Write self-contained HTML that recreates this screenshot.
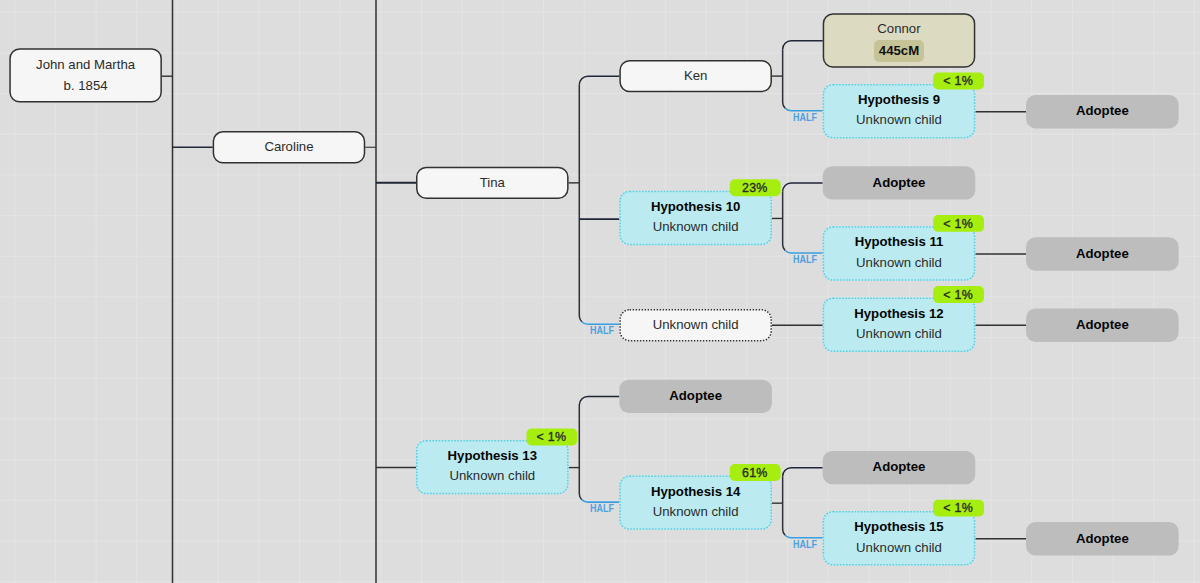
<!DOCTYPE html>
<html><head><meta charset="utf-8"><style>
*{margin:0;padding:0;box-sizing:border-box}
html,body{width:1200px;height:583px;overflow:hidden;background:#dddddd;font-family:"Liberation Sans",sans-serif}
svg{position:absolute;left:0;top:0}
.plain{padding-top:0.8px}
.n{position:absolute;width:152.6px;display:flex;flex-direction:column;align-items:center;justify-content:center;color:#2b2b2b;font-size:13.2px;line-height:20.4px;text-align:center}
.hyp .b,.adopt .b{color:#050505}
.hyp{padding-bottom:1.4px}
.b{font-weight:bold}
.connor{justify-content:flex-start;padding-top:6.2px}
.pill{background:#c6c497;border-radius:5px;font-weight:bold;color:#111;width:50px;height:22.2px;line-height:21.7px;margin-top:-0.2px}
.badge{position:absolute;width:50.8px;height:16.9px;color:#2b2b2b;font-size:12.4px;line-height:16.9px;padding-top:0.8px;padding-right:0.8px;text-align:center;letter-spacing:0.3px;-webkit-text-stroke:0.35px #2b2b2b}
.half{position:absolute;font-size:10.3px;font-weight:bold;color:#4da0e0;line-height:8px;width:30px;text-align:right;transform:scaleX(0.87);transform-origin:100% 50%}
</style></head>
<body>
<svg width="1200" height="583" viewBox="0 0 1200 583">
<line x1="14.70" y1="0" x2="14.70" y2="583" stroke="#e4e4e4" stroke-width="1"/>
<line x1="55.38" y1="0" x2="55.38" y2="583" stroke="#e4e4e4" stroke-width="1"/>
<line x1="96.06" y1="0" x2="96.06" y2="583" stroke="#e4e4e4" stroke-width="1"/>
<line x1="136.74" y1="0" x2="136.74" y2="583" stroke="#e4e4e4" stroke-width="1"/>
<line x1="177.42" y1="0" x2="177.42" y2="583" stroke="#e4e4e4" stroke-width="1"/>
<line x1="218.10" y1="0" x2="218.10" y2="583" stroke="#e4e4e4" stroke-width="1"/>
<line x1="258.78" y1="0" x2="258.78" y2="583" stroke="#e4e4e4" stroke-width="1"/>
<line x1="299.46" y1="0" x2="299.46" y2="583" stroke="#e4e4e4" stroke-width="1"/>
<line x1="340.14" y1="0" x2="340.14" y2="583" stroke="#e4e4e4" stroke-width="1"/>
<line x1="380.82" y1="0" x2="380.82" y2="583" stroke="#e4e4e4" stroke-width="1"/>
<line x1="421.50" y1="0" x2="421.50" y2="583" stroke="#e4e4e4" stroke-width="1"/>
<line x1="462.18" y1="0" x2="462.18" y2="583" stroke="#e4e4e4" stroke-width="1"/>
<line x1="502.86" y1="0" x2="502.86" y2="583" stroke="#e4e4e4" stroke-width="1"/>
<line x1="543.54" y1="0" x2="543.54" y2="583" stroke="#e4e4e4" stroke-width="1"/>
<line x1="584.22" y1="0" x2="584.22" y2="583" stroke="#e4e4e4" stroke-width="1"/>
<line x1="624.90" y1="0" x2="624.90" y2="583" stroke="#e4e4e4" stroke-width="1"/>
<line x1="665.58" y1="0" x2="665.58" y2="583" stroke="#e4e4e4" stroke-width="1"/>
<line x1="706.26" y1="0" x2="706.26" y2="583" stroke="#e4e4e4" stroke-width="1"/>
<line x1="746.94" y1="0" x2="746.94" y2="583" stroke="#e4e4e4" stroke-width="1"/>
<line x1="787.62" y1="0" x2="787.62" y2="583" stroke="#e4e4e4" stroke-width="1"/>
<line x1="828.30" y1="0" x2="828.30" y2="583" stroke="#e4e4e4" stroke-width="1"/>
<line x1="868.98" y1="0" x2="868.98" y2="583" stroke="#e4e4e4" stroke-width="1"/>
<line x1="909.66" y1="0" x2="909.66" y2="583" stroke="#e4e4e4" stroke-width="1"/>
<line x1="950.34" y1="0" x2="950.34" y2="583" stroke="#e4e4e4" stroke-width="1"/>
<line x1="991.02" y1="0" x2="991.02" y2="583" stroke="#e4e4e4" stroke-width="1"/>
<line x1="1031.70" y1="0" x2="1031.70" y2="583" stroke="#e4e4e4" stroke-width="1"/>
<line x1="1072.38" y1="0" x2="1072.38" y2="583" stroke="#e4e4e4" stroke-width="1"/>
<line x1="1113.06" y1="0" x2="1113.06" y2="583" stroke="#e4e4e4" stroke-width="1"/>
<line x1="1153.74" y1="0" x2="1153.74" y2="583" stroke="#e4e4e4" stroke-width="1"/>
<line x1="1194.42" y1="0" x2="1194.42" y2="583" stroke="#e4e4e4" stroke-width="1"/>
<line x1="0" y1="12.20" x2="1200" y2="12.20" stroke="#e4e4e4" stroke-width="1"/>
<line x1="0" y1="52.88" x2="1200" y2="52.88" stroke="#e4e4e4" stroke-width="1"/>
<line x1="0" y1="93.56" x2="1200" y2="93.56" stroke="#e4e4e4" stroke-width="1"/>
<line x1="0" y1="134.24" x2="1200" y2="134.24" stroke="#e4e4e4" stroke-width="1"/>
<line x1="0" y1="174.92" x2="1200" y2="174.92" stroke="#e4e4e4" stroke-width="1"/>
<line x1="0" y1="215.60" x2="1200" y2="215.60" stroke="#e4e4e4" stroke-width="1"/>
<line x1="0" y1="256.28" x2="1200" y2="256.28" stroke="#e4e4e4" stroke-width="1"/>
<line x1="0" y1="296.96" x2="1200" y2="296.96" stroke="#e4e4e4" stroke-width="1"/>
<line x1="0" y1="337.64" x2="1200" y2="337.64" stroke="#e4e4e4" stroke-width="1"/>
<line x1="0" y1="378.32" x2="1200" y2="378.32" stroke="#e4e4e4" stroke-width="1"/>
<line x1="0" y1="419.00" x2="1200" y2="419.00" stroke="#e4e4e4" stroke-width="1"/>
<line x1="0" y1="459.68" x2="1200" y2="459.68" stroke="#e4e4e4" stroke-width="1"/>
<line x1="0" y1="500.36" x2="1200" y2="500.36" stroke="#e4e4e4" stroke-width="1"/>
<line x1="0" y1="541.04" x2="1200" y2="541.04" stroke="#e4e4e4" stroke-width="1"/>
<line x1="0" y1="581.72" x2="1200" y2="581.72" stroke="#e4e4e4" stroke-width="1"/>
<line x1="172.50" y1="0.00" x2="172.50" y2="583.00" stroke="#313131" stroke-width="1.5"/>
<line x1="376.00" y1="0.00" x2="376.00" y2="583.00" stroke="#313131" stroke-width="1.5"/>
<line x1="161.90" y1="76.20" x2="172.50" y2="76.20" stroke="#313131" stroke-width="1.4"/>
<line x1="172.50" y1="147.27" x2="212.65" y2="147.27" stroke="#1f2636" stroke-width="1.4"/>
<line x1="365.25" y1="147.27" x2="376.00" y2="147.27" stroke="#313131" stroke-width="1.1"/>
<line x1="376.00" y1="182.86" x2="416.00" y2="182.86" stroke="#1f2636" stroke-width="2.0"/>
<line x1="376.00" y1="467.58" x2="416.00" y2="467.58" stroke="#313131" stroke-width="1.5"/>
<line x1="568.60" y1="182.86" x2="579.30" y2="182.86" stroke="#313131" stroke-width="1.4"/>
<path d="M619.35,76.29 H587.80 A8.5,8.5 0 0 0 579.30,84.79" fill="none" stroke="#1f2636" stroke-width="1.5"/>
<path d="M579.30,84.79 V315.72 A8.5,8.5 0 0 0 581.79,321.73" fill="none" stroke="#2e3038" stroke-width="1.5"/>
<path d="M581.79,321.73 A8.5,8.5 0 0 0 587.80,324.22 H619.35" fill="none" stroke="#3a9ee0" stroke-width="1.6"/>
<line x1="579.30" y1="219.15" x2="619.35" y2="219.15" stroke="#1f2636" stroke-width="1.8"/>
<line x1="568.60" y1="467.58" x2="579.30" y2="467.58" stroke="#313131" stroke-width="1.4"/>
<path d="M619.35,396.60 H587.80 A8.5,8.5 0 0 0 579.30,405.10" fill="none" stroke="#1f2636" stroke-width="1.5"/>
<path d="M579.30,405.10 V493.67 A8.5,8.5 0 0 0 581.79,499.68" fill="none" stroke="#2e3038" stroke-width="1.5"/>
<path d="M581.79,499.68 A8.5,8.5 0 0 0 587.80,502.17 H619.35" fill="none" stroke="#3a9ee0" stroke-width="1.6"/>
<line x1="771.95" y1="76.09" x2="782.65" y2="76.09" stroke="#313131" stroke-width="1.4"/>
<path d="M822.70,40.70 H791.15 A8.5,8.5 0 0 0 782.65,49.20" fill="none" stroke="#1f2636" stroke-width="1.5"/>
<path d="M782.65,49.20 V102.18 A8.5,8.5 0 0 0 785.14,108.19" fill="none" stroke="#2e3038" stroke-width="1.5"/>
<path d="M785.14,108.19 A8.5,8.5 0 0 0 791.15,110.68 H822.70" fill="none" stroke="#3a9ee0" stroke-width="1.6"/>
<line x1="771.95" y1="218.45" x2="782.65" y2="218.45" stroke="#313131" stroke-width="1.4"/>
<path d="M822.70,183.06 H791.15 A8.5,8.5 0 0 0 782.65,191.56" fill="none" stroke="#1f2636" stroke-width="1.5"/>
<path d="M782.65,191.56 V244.54 A8.5,8.5 0 0 0 785.14,250.55" fill="none" stroke="#2e3038" stroke-width="1.5"/>
<path d="M785.14,250.55 A8.5,8.5 0 0 0 791.15,253.04 H822.70" fill="none" stroke="#3a9ee0" stroke-width="1.6"/>
<line x1="771.95" y1="325.22" x2="822.70" y2="325.22" stroke="#313131" stroke-width="1.4"/>
<line x1="771.95" y1="503.17" x2="782.65" y2="503.17" stroke="#313131" stroke-width="1.4"/>
<path d="M822.70,467.78 H791.15 A8.5,8.5 0 0 0 782.65,476.28" fill="none" stroke="#1f2636" stroke-width="1.5"/>
<path d="M782.65,476.28 V529.26 A8.5,8.5 0 0 0 785.14,535.27" fill="none" stroke="#2e3038" stroke-width="1.5"/>
<path d="M785.14,535.27 A8.5,8.5 0 0 0 791.15,537.76 H822.70" fill="none" stroke="#3a9ee0" stroke-width="1.6"/>
<line x1="975.30" y1="111.68" x2="1026.05" y2="111.68" stroke="#313131" stroke-width="1.4"/>
<line x1="975.30" y1="254.04" x2="1026.05" y2="254.04" stroke="#313131" stroke-width="1.4"/>
<line x1="975.30" y1="325.22" x2="1026.05" y2="325.22" stroke="#313131" stroke-width="1.4"/>
<line x1="975.30" y1="538.76" x2="1026.05" y2="538.76" stroke="#313131" stroke-width="1.4"/>
<rect x="10.05" y="48.95" width="151.10" height="52.90" rx="9.5" fill="#f6f6f6" stroke="#313131" stroke-width="1.5"/>
<rect x="213.40" y="131.82" width="151.10" height="30.90" rx="9.5" fill="#f6f6f6" stroke="#313131" stroke-width="1.5"/>
<rect x="416.75" y="167.41" width="151.10" height="30.90" rx="9.5" fill="#f6f6f6" stroke="#313131" stroke-width="1.5"/>
<rect x="416.00" y="439.88" width="152.60" height="54.40" rx="10.0" fill="#bbebf0"/>
<rect x="416.75" y="440.63" width="151.10" height="52.90" rx="9.5" fill="none" stroke="#5ccde1" stroke-width="1.5" stroke-dasharray="1.6 1.5"/>
<rect x="526.50" y="428.48" width="50.8" height="16.9" rx="5" fill="#a5ee10"/>
<rect x="620.10" y="60.64" width="151.10" height="30.90" rx="9.5" fill="#f6f6f6" stroke="#313131" stroke-width="1.5"/>
<rect x="619.35" y="190.75" width="152.60" height="54.40" rx="10.0" fill="#bbebf0"/>
<rect x="620.10" y="191.50" width="151.10" height="52.90" rx="9.5" fill="none" stroke="#5ccde1" stroke-width="1.5" stroke-dasharray="1.6 1.5"/>
<rect x="729.85" y="179.35" width="50.8" height="16.9" rx="5" fill="#a5ee10"/>
<rect x="619.35" y="309.02" width="152.60" height="32.40" rx="10.0" fill="#f6f6f6"/>
<rect x="620.10" y="309.77" width="151.10" height="30.90" rx="9.5" fill="none" stroke="#333" stroke-width="1.5" stroke-dasharray="1.5 1.5"/>
<rect x="619.35" y="379.70" width="152.60" height="33.40" rx="9.5" fill="#bdbdbd"/>
<rect x="619.35" y="475.47" width="152.60" height="54.40" rx="10.0" fill="#bbebf0"/>
<rect x="620.10" y="476.22" width="151.10" height="52.90" rx="9.5" fill="none" stroke="#5ccde1" stroke-width="1.5" stroke-dasharray="1.6 1.5"/>
<rect x="729.85" y="464.07" width="50.8" height="16.9" rx="5" fill="#a5ee10"/>
<rect x="823.45" y="14.05" width="151.10" height="52.90" rx="9.5" fill="#dcdbc2" stroke="#313131" stroke-width="1.5"/>
<rect x="822.70" y="83.98" width="152.60" height="54.40" rx="10.0" fill="#bbebf0"/>
<rect x="823.45" y="84.73" width="151.10" height="52.90" rx="9.5" fill="none" stroke="#5ccde1" stroke-width="1.5" stroke-dasharray="1.6 1.5"/>
<rect x="933.20" y="72.58" width="50.8" height="16.9" rx="5" fill="#a5ee10"/>
<rect x="822.70" y="166.16" width="152.60" height="33.40" rx="9.5" fill="#bdbdbd"/>
<rect x="822.70" y="226.34" width="152.60" height="54.40" rx="10.0" fill="#bbebf0"/>
<rect x="823.45" y="227.09" width="151.10" height="52.90" rx="9.5" fill="none" stroke="#5ccde1" stroke-width="1.5" stroke-dasharray="1.6 1.5"/>
<rect x="933.20" y="214.94" width="50.8" height="16.9" rx="5" fill="#a5ee10"/>
<rect x="822.70" y="297.52" width="152.60" height="54.40" rx="10.0" fill="#bbebf0"/>
<rect x="823.45" y="298.27" width="151.10" height="52.90" rx="9.5" fill="none" stroke="#5ccde1" stroke-width="1.5" stroke-dasharray="1.6 1.5"/>
<rect x="933.20" y="286.12" width="50.8" height="16.9" rx="5" fill="#a5ee10"/>
<rect x="822.70" y="450.88" width="152.60" height="33.40" rx="9.5" fill="#bdbdbd"/>
<rect x="822.70" y="511.06" width="152.60" height="54.40" rx="10.0" fill="#bbebf0"/>
<rect x="823.45" y="511.81" width="151.10" height="52.90" rx="9.5" fill="none" stroke="#5ccde1" stroke-width="1.5" stroke-dasharray="1.6 1.5"/>
<rect x="933.20" y="499.66" width="50.8" height="16.9" rx="5" fill="#a5ee10"/>
<rect x="1026.05" y="94.98" width="152.60" height="33.40" rx="9.5" fill="#bdbdbd"/>
<rect x="1026.05" y="237.34" width="152.60" height="33.40" rx="9.5" fill="#bdbdbd"/>
<rect x="1026.05" y="308.52" width="152.60" height="33.40" rx="9.5" fill="#bdbdbd"/>
<rect x="1026.05" y="522.06" width="152.60" height="33.40" rx="9.5" fill="#bdbdbd"/>
</svg>
<div class="n plain" style="left:9.30px;top:48.20px;height:54.40px"><div>John and Martha</div><div>b. 1854</div></div>
<div class="n plain" style="left:212.65px;top:131.07px;height:32.40px"><div>Caroline</div></div>
<div class="n plain" style="left:416.00px;top:166.66px;height:32.40px"><div>Tina</div></div>
<div class="n hyp" style="left:416.00px;top:439.88px;height:54.40px"><div class="b">Hypothesis 13</div><div>Unknown child</div></div>
<div class="badge" style="left:526.50px;top:428.48px">&lt; 1%</div>
<div class="n plain" style="left:619.35px;top:59.89px;height:32.40px"><div>Ken</div></div>
<div class="n hyp" style="left:619.35px;top:190.75px;height:54.40px"><div class="b">Hypothesis 10</div><div>Unknown child</div></div>
<div class="badge" style="left:729.85px;top:179.35px">23%</div>
<div class="n dotted" style="left:619.35px;top:309.02px;height:32.40px"><div>Unknown child</div></div>
<div class="n adopt" style="left:619.35px;top:379.70px;height:33.40px"><div class="b">Adoptee</div></div>
<div class="n hyp" style="left:619.35px;top:475.47px;height:54.40px"><div class="b">Hypothesis 14</div><div>Unknown child</div></div>
<div class="badge" style="left:729.85px;top:464.07px">61%</div>
<div class="n connor" style="left:822.70px;top:13.30px;height:54.40px"><div>Connor</div><div class="pill">445cM</div></div>
<div class="n hyp" style="left:822.70px;top:83.98px;height:54.40px"><div class="b">Hypothesis 9</div><div>Unknown child</div></div>
<div class="badge" style="left:933.20px;top:72.58px">&lt; 1%</div>
<div class="n adopt" style="left:822.70px;top:166.16px;height:33.40px"><div class="b">Adoptee</div></div>
<div class="n hyp" style="left:822.70px;top:226.34px;height:54.40px"><div class="b">Hypothesis 11</div><div>Unknown child</div></div>
<div class="badge" style="left:933.20px;top:214.94px">&lt; 1%</div>
<div class="n hyp" style="left:822.70px;top:297.52px;height:54.40px"><div class="b">Hypothesis 12</div><div>Unknown child</div></div>
<div class="badge" style="left:933.20px;top:286.12px">&lt; 1%</div>
<div class="n adopt" style="left:822.70px;top:450.88px;height:33.40px"><div class="b">Adoptee</div></div>
<div class="n hyp" style="left:822.70px;top:511.06px;height:54.40px"><div class="b">Hypothesis 15</div><div>Unknown child</div></div>
<div class="badge" style="left:933.20px;top:499.66px">&lt; 1%</div>
<div class="n adopt" style="left:1026.05px;top:94.98px;height:33.40px"><div class="b">Adoptee</div></div>
<div class="n adopt" style="left:1026.05px;top:237.34px;height:33.40px"><div class="b">Adoptee</div></div>
<div class="n adopt" style="left:1026.05px;top:308.52px;height:33.40px"><div class="b">Adoptee</div></div>
<div class="n adopt" style="left:1026.05px;top:522.06px;height:33.40px"><div class="b">Adoptee</div></div>
<div class="half" style="left:583.95px;top:327.22px">HALF</div>
<div class="half" style="left:583.95px;top:505.17px">HALF</div>
<div class="half" style="left:787.30px;top:113.68px">HALF</div>
<div class="half" style="left:787.30px;top:256.04px">HALF</div>
<div class="half" style="left:787.30px;top:540.76px">HALF</div>
</body></html>
